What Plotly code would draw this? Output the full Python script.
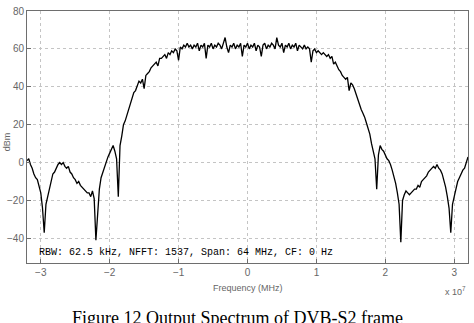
import plotly.graph_objects as go

# Spectrum bins: -3.2 .. 3.2 (x 10^7 Hz), step 0.025
f_start = -3.2
f_step = 0.025
power_dbm = [
    1, 2, -1, -3, -6, -8, -9, -13,            # -3.200 .. -3.025
    -16, -24, -37, -22, -18, -14, -10, -6,    # -3.000 .. -2.825
    -5, -3, -1, 0, -1, 0, -2, -3,             # -2.800 .. -2.625
    -2, -5, -6, -8, -9, -11, -10, -12,        # -2.600 .. -2.425
    -13, -14, -15, -16, -16, -18, -15, -19,   # -2.400 .. -2.225
    -41, -24, -14, -8, -5, -2, 0, 3,          # -2.200 .. -2.025
    5, 7, 9, 6, 2, -18, 9, 14,                # -2.000 .. -1.825
    20, 22, 25, 28, 32, 34, 37, 38,           # -1.800 .. -1.625
    41, 43, 42, 44, 39, 46, 47, 48,           # -1.600 .. -1.425
    50, 51, 52, 53, 51, 55, 55, 56,           # -1.400 .. -1.225
    57, 55, 58, 57, 59, 58, 60, 59,           # -1.200 .. -1.025
    54, 61, 60, 62, 61, 63, 61, 62,           # -1.000 .. -0.825
    60, 62, 61, 63, 59, 62, 61, 63,           # -0.800 .. -0.625
    55, 62, 61, 63, 60, 62, 61, 63,           # -0.600 .. -0.425
    62, 60, 63, 66, 61, 58, 62, 61,           # -0.400 .. -0.225
    63, 60, 62, 61, 63, 56, 62, 61,           # -0.200 .. -0.025
    63, 60, 62, 61, 63, 59, 62, 61,           #  0.000 ..  0.175
    56, 62, 63, 60, 62, 61, 63, 62,           #  0.200 ..  0.375
    60, 66, 62, 61, 63, 58, 62, 61,           #  0.400 ..  0.575
    63, 60, 62, 61, 63, 59, 62, 61,           #  0.600 ..  0.775
    60, 62, 60, 61, 60, 53, 59, 60,           #  0.800 ..  0.975
    58, 59, 58, 57, 58, 57, 56, 57,           #  1.000 ..  1.175
    55, 56, 52, 53, 51, 49, 48, 46,           #  1.200 ..  1.375
    45, 44, 45, 38, 42, 41, 39, 36,           #  1.400 ..  1.575
    33, 30, 28, 26, 24, 21, 18, 15,           #  1.600 ..  1.775
    10, 6, 2, -14, 4, 9, 7, 6,                #  1.800 ..  1.975
    4, 2, 1, -1, -4, -7, -11, -16,            #  2.000 ..  2.175
    -22, -42, -20, -17, -15, -16, -17, -16,   #  2.200 ..  2.375
    -15, -14, -14, -12, -13, -10, -9, -8,     #  2.400 ..  2.575
    -7, -5, -4, -3, -2, -3, -1, -3,           #  2.600 ..  2.775
    -4, -6, -9, -13, -18, -24, -37, -22,      #  2.800 ..  2.975
    -18, -13, -10, -8, -6, -4, -3, 0,         #  3.000 ..  3.175
    3,                                        #  3.200
]
freq = [round(f_start + f_step * i, 3) for i in range(len(power_dbm))]

x_ticks = [-3, -2, -1, 0, 1, 2, 3]
y_ticks = [-40, -20, 0, 20, 40, 60, 80]

info_text = "RBW: 62.5 kHz, NFFT: 1537, Span: 64 MHz, CF: 0 Hz"
caption = "Figure 12 Output Spectrum of DVB-S2 frame"

fig = go.Figure()
fig.add_trace(go.Scatter(x=freq, y=power_dbm, mode="lines",
                         line=dict(color="black", width=1.3),
                         hoverinfo="skip", showlegend=False))

axis_common = dict(showgrid=True, gridcolor="#c4c4c4", griddash="dot", gridwidth=1,
                   showline=True, linecolor="#6e6e6e", linewidth=1, mirror=True,
                   ticks="inside", ticklen=4, tickcolor="#6e6e6e",
                   tickfont=dict(family="Liberation Sans", size=10, color="#666666"),
                   zeroline=False)

fig.update_xaxes(range=[-3.2, 3.2], tickvals=x_ticks, **axis_common)
fig.update_yaxes(range=[-53, 80], tickvals=y_ticks, **axis_common)

fig.update_layout(
    width=474, height=323,
    margin=dict(l=27, r=5, t=7, b=60),
    paper_bgcolor="white", plot_bgcolor="white",
    annotations=[
        dict(text=info_text, xref="paper", yref="paper", x=0.022, y=0.04,
             xanchor="left", yanchor="middle", showarrow=False,
             font=dict(family="Liberation Mono", size=10, color="black")),
        dict(text="Frequency (MHz)", xref="paper", yref="paper", x=0.5, y=-0.1,
             xanchor="center", yanchor="middle", showarrow=False,
             font=dict(family="Liberation Sans", size=9, color="#666666")),
        dict(text="x 10<sup>7</sup>", xref="paper", yref="paper", x=0.972, y=-0.11,
             xanchor="center", yanchor="middle", showarrow=False,
             font=dict(family="Liberation Sans", size=9, color="#666666")),
        dict(text="dBm", xref="paper", yref="paper", x=-0.045, y=0.48,
             xanchor="center", yanchor="middle", showarrow=False, textangle=-90,
             font=dict(family="Liberation Sans", size=9, color="#666666")),
        dict(text=caption, xref="paper", yref="paper", x=0.478, y=-0.172,
             xanchor="center", yanchor="top", showarrow=False,
             font=dict(family="Liberation Serif", size=18, color="black")),
    ],
)

fig.write_html("out.html", config={"displayModeBar": False},
               post_script="document.body.style.margin='0px';document.body.style.overflow='hidden';")
